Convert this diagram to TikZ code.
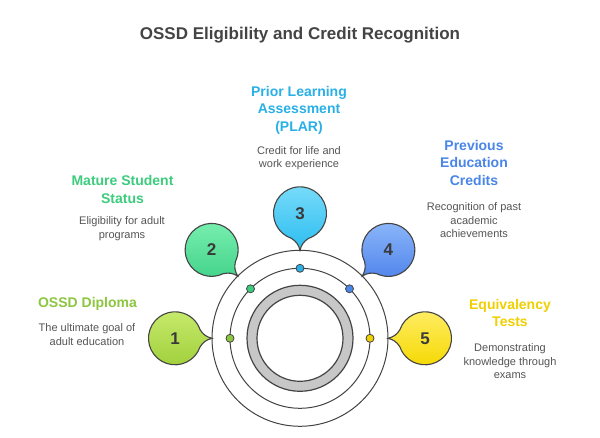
\documentclass[tikz,border=0pt]{standalone}
\usepackage{fontspec}
\setmainfont{Liberation Sans}
\usetikzlibrary{calc}
\begin{document}
\begin{tikzpicture}[x=1pt,y=1pt,
  heading/.style={inner sep=0pt,align=center,font=\fontsize{14}{17.5}\selectfont\bfseries},
  desc/.style={inner sep=0pt,align=center,text=descgray,font=\fontsize{11}{13.6}\selectfont},
  ringline/.style={draw=linegray,line width=1pt},
  dot/.style={circle,draw=linegray,line width=0.8pt,minimum size=8pt,inner sep=0pt},
  numtext/.style={inner sep=0pt,text=numgray,font=\fontsize{17}{17}\selectfont\bfseries},
  bubbleline/.style={draw=linegray,line width=1.1pt}
]
\definecolor{descgray}{HTML}{555555}
\definecolor{linegray}{HTML}{444444}
\definecolor{numgray}{HTML}{3A3A3A}
\definecolor{titlegray}{HTML}{444444}
\definecolor{cA}{HTML}{8DC63F}\definecolor{cAt}{HTML}{C8EB6E}\definecolor{cAb}{HTML}{9FCF3A}
\definecolor{cB}{HTML}{3DCC7E}\definecolor{cBt}{HTML}{7AF0B0}\definecolor{cBb}{HTML}{42D28A}
\definecolor{cC}{HTML}{29B0E6}\definecolor{cCt}{HTML}{7ADCFA}\definecolor{cCb}{HTML}{2CBDF0}
\definecolor{cD}{HTML}{4A86E8}\definecolor{cDt}{HTML}{8EB8FA}\definecolor{cDb}{HTML}{5186EC}
\definecolor{cE}{HTML}{F0D000}\definecolor{cEt}{HTML}{FFEE66}\definecolor{cEb}{HTML}{F5D800}
\useasboundingbox (0,0) rectangle (600,438);
\fill[white] (0,0) rectangle (600,438);

\node[inner sep=0pt,text=titlegray,font=\fontsize{17}{17}\selectfont\bfseries] (title) at (300,403) {OSSD Eligibility and Credit Recognition};

\coordinate (C) at (300,99.7);
% rings
\draw[ringline] (C) circle[radius=88];
\draw[ringline] (C) circle[radius=70];
\draw[draw=linegray,line width=1.2pt,fill=black!22,even odd rule] (C) circle[radius=53] (C) circle[radius=43];

% dots on middle ring
\foreach \a/\c/\n in {180/cA/1,135/cB/2,90/cC/3,45/cD/4,0/cE/5}{
  \node[dot,fill=\c] (dot\n) at ($(C)+(\a:70)$) {};
}

% bubbles
\foreach \a/\t/\b/\n in {180/cAt/cAb/1,135/cBt/cBb/2,90/cCt/cCb/3,45/cDt/cDb/4,0/cEt/cEb/5}{
  \coordinate (tip\n) at ($(C)+(\a:88)$);
  \coordinate (bc\n) at ($(C)+(\a:125)$);
  \pgfmathsetmacro{\sa}{\a+180-19}
  \pgfmathsetmacro{\ea}{\a+180+19-360}
  \pgfmathsetmacro{\pa}{\a+180+19}
  \draw[bubbleline,top color=\t,bottom color=\b]
    ($(bc\n)+(\pa:26.5)$) to[bend right=22] (tip\n) to[bend right=22] ($(bc\n)+(\sa:26.5)$)
    arc[start angle=\sa,end angle=\ea,radius=26.5] -- cycle;
  \node[numtext] (b\n) at (bc\n) {\n};
}

% texts
\node[heading,text=cA] (h1) at (87.5,133.7) {OSSD Diploma};
\node[desc] (d1) at (87,103.3) {The ultimate goal of\\adult education};
\node[heading,text=cB] (h2) at (122.5,248.5) {Mature Student\\Status};
\node[desc] (d2) at (122,209.2) {Eligibility for adult\\programs};
\node[heading,text=cC] (h3) at (299,328) {Prior Learning\\Assessment\\(PLAR)};
\node[desc] (d3) at (299,279.7) {Credit for life and\\work experience};
\node[heading,text=cD] (h4) at (474,275.3) {Previous\\Education\\Credits};
\node[desc] (d4) at (474,217.8) {Recognition of past\\academic\\achievements};
\node[heading,text=cE] (h5) at (510,125) {Equivalency\\Tests};
\node[desc] (d5) at (510,76.8) {Demonstrating\\knowledge through\\exams};
\end{tikzpicture}
\end{document}
